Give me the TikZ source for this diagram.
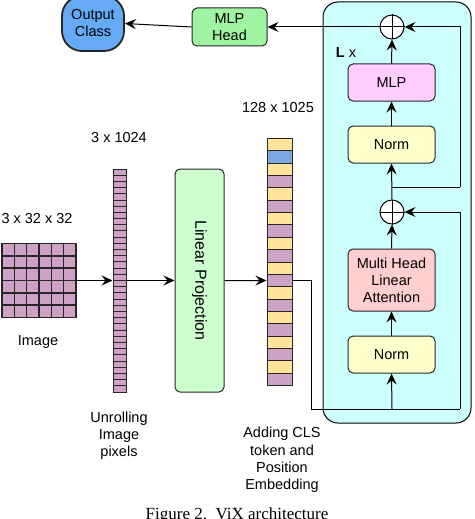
\documentclass[tikz,border=0pt]{standalone}
\usepackage{fontspec}
\setmainfont{Liberation Sans}
\newfontfamily\capfont{Liberation Serif}
\usetikzlibrary{arrows.meta}

\definecolor{outblue}{RGB}{102,170,246}
\definecolor{headgreen}{RGB}{160,243,160}
\definecolor{projgreen}{RGB}{206,255,206}
\definecolor{encbg}{RGB}{206,255,255}
\definecolor{mlppink}{RGB}{255,206,255}
\definecolor{normyel}{RGB}{255,255,206}
\definecolor{attnred}{RGB}{255,206,206}
\definecolor{tokyel}{RGB}{255,228,153}
\definecolor{tokblu}{RGB}{126,166,224}
\definecolor{tokpur}{RGB}{205,162,196}

\tikzset{
	blockbox/.style={draw=black!85, rounded corners=5pt, line width=1pt, align=center, inner sep=0pt},
	flow/.style={line width=1pt, -{Stealth[length=11pt,width=10pt,inset=4pt]}},
	wire/.style={line width=1pt},
	addnode/.style={draw, circle, minimum size=24pt, line width=1pt, fill=white, inner sep=0pt},
	tokcell/.style={draw=black!85, line width=1pt, minimum width=25pt, minimum height=12.35pt, inner sep=0pt},
}

\begin{document}
\begin{tikzpicture}[x=1pt, y=-1pt, font=\fontsize{14.5}{17}\selectfont]
		%%%%% START %%%%%
		\useasboundingbox (0,0) rectangle (474,519);
		
		% encoder block
		\draw[fill=encbg, line width=1pt, rounded corners=15pt] (323,2) rectangle (471,423);
		\node at (346,53) {\textbf{L} x};
		
		\node[addnode] (plustop) at (392,27) {};
		\node[blockbox, fill=mlppink, minimum width=87pt, minimum height=37pt] (mlp) at (391.5,82.5) {MLP};
		\node[blockbox, fill=normyel, minimum width=87pt, minimum height=37pt] (normup) at (391.5,144.5) {Norm};
		\node[addnode] (pluslow) at (392,212) {};
		\node[blockbox, fill=attnred, minimum width=87pt, minimum height=62pt] (attn) at (391.5,280) {Multi Head\\Linear\\Attention};
		\node[blockbox, fill=normyel, minimum width=87pt, minimum height=37pt] (normlow) at (391.5,354.5) {Norm};
		
		\foreach \p in {plustop,pluslow} {
			\draw[wire] (\p.north) -- (\p.south);
			\draw[wire] (\p.west) -- (\p.east);
		}
		
		% head
		\node[blockbox, fill=headgreen, minimum width=75pt, minimum height=38pt] (head) at (229.5,27) {MLP\\Head};
		\node[blockbox, fill=outblue, line width=1.8pt, rounded corners=20pt, minimum width=62pt, minimum height=55pt] (out) at (93,23.5) {Output\\Class};
		
		% image
		\node[draw=black!85, fill=tokpur, line width=1.4pt, minimum size=74pt, inner sep=0pt] (img) at (39,280.5) {};
		\foreach \k in {1,...,5} {
			\draw[line width=1.4pt, black!85] ({2+74/6*\k},243.5) -- ++(0,74);
			\draw[line width=1.4pt, black!85] (2,{243.5+74/6*\k}) -- ++(74,0);
		}
		\node at (37,219) {3 x 32 x 32};
		\node at (38,342) {Image};
		
		% unrolled pixels
		\node[draw=black!85, fill=tokpur, line width=1pt, minimum width=13pt, minimum height=223pt, inner sep=0pt] (pixcol) at (119.5,280.5) {};
		\foreach \k in {1,...,35}
			\draw[line width=0.9pt, black!85] (113,{169+223/36*\k}) -- (126,{169+223/36*\k});
		\node at (119,138) {3 x 1024};
		\node[align=center, font=\fontsize{14.5}{16.8}\selectfont] at (119,436) {Unrolling\\Image\\pixels};
		
		% projection
		\node[blockbox, fill=projgreen, minimum width=49pt, minimum height=223pt] (proj) at (199.5,280.5) {};
		\node[rotate=-90, font=\fontsize{16}{19}\selectfont] at (proj.center) {Linear Projection};
		
		% tokens
		\foreach \c [count=\i from 0] in {tokyel,tokblu,tokyel,tokpur,tokyel,tokpur,tokyel,tokpur,tokyel,tokpur,tokyel,tokpur,tokyel,tokpur,tokyel,tokpur,tokyel,tokpur,tokyel,tokpur}
			\node[tokcell, fill=\c] (tok\i) at (279.5,{138.5+12.35*\i+6.175}) {};
		\node at (278,108) {128 x 1025};
		\node[align=center, font=\fontsize{14.5}{17.2}\selectfont] at (282,460) {Adding CLS\\token and\\Position\\Embedding};
		
		% connectors
		\draw[flow] (img.east) -- (pixcol.west);
		\draw[flow] (pixcol.east) -- (proj.west);
		\draw[flow] (proj.east) -- (tok11.west);
		
		\coordinate (skipa) at (311,409);
		\coordinate (skipb) at (460,409);
		\coordinate (splitlow) at (392,409);
		\coordinate (splitup) at (392,187);
		\coordinate (skipc) at (460,187);
		
		\draw[wire] (tok11.east) -| (skipa) -- (skipb);
		\draw[flow] (skipb) |- (pluslow.east);
		\draw[flow] (splitlow) -- (normlow.south);
		\draw[flow] (normlow.north) -- (attn.south);
		\draw[flow] (attn.north) -- (pluslow.south);
		\draw[flow] (pluslow.north) -- (normup.south);
		\draw[flow] (normup.north) -- (mlp.south);
		\draw[flow] (mlp.north) -- (plustop.south);
		\draw[wire] (splitup) -- (skipc);
		\draw[flow] (skipc) |- (plustop.east);
		\draw[flow] (plustop.west) -- (head.east);
		\draw[flow] (head.west) -- (out.east);
		
		% caption
		\node[font=\capfont\fontsize{17}{20}\selectfont, anchor=base] (cap) at (237,519) {Figure 2.\ \ ViX architecture};
		
		%%%%% END %%%%%
\end{tikzpicture}
\end{document}
